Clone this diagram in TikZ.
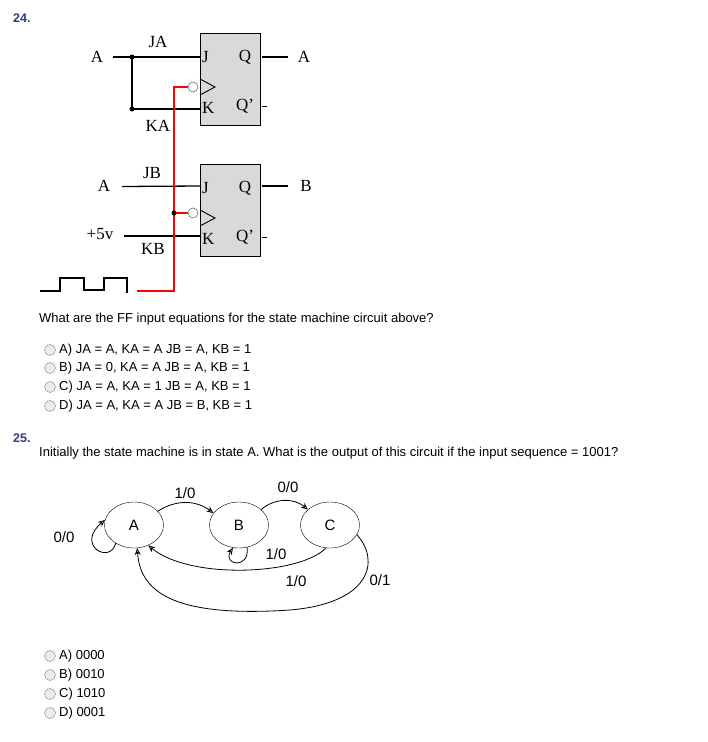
\documentclass[tikz,border=0pt]{standalone}
\usepackage{fontspec}
\setmainfont{Liberation Serif}
\newfontfamily\ar{Liberation Sans}
\usetikzlibrary{arrows.meta,shapes.geometric}
\begin{document}
\begin{tikzpicture}[x=1pt,y=-1pt,
  ff/.style={draw,fill=gray!30,line width=0.9pt,minimum width=60pt,minimum height=92pt,anchor=north west,inner sep=0},
  w/.style={line width=1.3pt},
  rw/.style={line width=1.3pt,red},
  lab/.style={font=\fontsize{17}{17}\selectfont,inner sep=1pt},
  txt/.style={font=\ar\fontsize{13}{14}\selectfont,anchor=west,inner sep=0},
  num/.style={font=\ar\bfseries\fontsize{12.5}{14}\selectfont,text={rgb,255:red,40;green,60;blue,130},anchor=west,inner sep=0},
  radio/.style={circle,draw=gray,fill=gray!15,minimum size=11pt,inner sep=0},
  st/.style={ellipse,draw,minimum width=59pt,minimum height=46pt,inner sep=0,font=\ar\fontsize{15}{15}\selectfont},
  hl/.style={font=\ar\fontsize{15}{15}\selectfont,inner sep=0},
  ar/.style={-{Stealth[open,length=7pt,width=6pt]},line width=0.8pt}]
\useasboundingbox[fill=white] (0,0) rectangle (708,742);
\node[num] (n24) at (13,18) {24.};
% flip-flops
\node[ff] (fa) at (200,33) {};
\node[ff] (fb) at (200,164) {};
\node[lab] (ja) at (158,42) {JA};
\node[lab] (ka) at (158,126) {KA};
\node[lab] (jb) at (152,173) {JB};
\node[lab] (kb) at (153,249) {KB};
\node[lab] (la) at (97,57) {A};
\node[lab] (lb) at (104,186) {A};
\node[lab] (l5) at (100,234) {+5v};
\node[lab] (qa) at (304,57) {A};
\node[lab] (qb) at (306,186) {B};
\foreach \f/\y in {fa/33,fb/164}{
  \node[lab,anchor=west] at (201,\y+24) {J};
  \node[lab,anchor=west] at (201,\y+75) {K};
  \node[lab] at (245,\y+24) {Q};
  \node[lab] at (245,\y+73) {Q’};
  \draw[line width=0.9pt] (200,\y+46) -- (215,\y+54) -- (200,\y+62);
  \draw[line width=0.9pt] (262,\y+73) -- (267,\y+73);
}
\draw[w] (113,57) -- (200,57);
\draw[w] (132,57) -- (132,109) -- (200,109);
\fill (132,57) circle (2.5) (132,109) circle (2.5);
\draw[w] (262,57) -- (288,57);
\draw[w] (262,186) -- (288,186);
\draw[w] (122,186.5) -- (200,186);
\draw[w] (124,236) -- (200,236);
% clock
\draw[rw] (137,291) -- (174,291) -- (174,87) -- (188,87);
\draw[rw] (174,213) -- (188,213);
\draw[gray,fill=white,line width=0.7pt] (193,87) circle (5);
\draw[gray,fill=white,line width=0.7pt] (193,213) circle (5);
\fill (174,213) circle (2.5);
\draw[w] (40,291) -- (60,291) -- (60,278) -- (84,278) -- (84,290) -- (104,290) -- (104,278) -- (127,278) -- (127,293);
% Q24 text
\node[txt] (q24) at (39,319) {What are the FF input equations for the state machine circuit above?};
\foreach \yy/\t in {350/{A) JA = A, KA = A JB = A, KB = 1},368/{B) JA = 0, KA = A JB = A, KB = 1},387/{C) JA = A, KA = 1 JB = A, KB = 1},406/{D) JA = A, KA = A JB = B, KB = 1}}{
  \node[radio] at (50,\yy) {};
  \node[txt] at (59,\yy) {\t};
}
\node[num] (n25) at (13,438) {25.};
\node[txt] (q25) at (39,453) {Initially the state machine is in state A. What is the output of this circuit if the input sequence = 1001?};
% state diagram
\node[st] (A) at (134,525) {A};
\node[st] (B) at (239,525) {B};
\node[st] (C) at (330,525) {C};
\draw[ar] (A.30) to[bend left=35] (B.155);
\draw[ar] (B.35) to[bend left=40] (C.145);
\draw[ar] (A.225) .. controls (110,565) and (75,545) .. (A.170);
\draw[ar] (B.290) .. controls (250,570) and (222,565) .. (B.255);
\draw[ar] (C.260) .. controls (300,575) and (190,580) .. (A.305);
\draw[ar] (C.340) .. controls (380,560) and (372,603) .. (290,610) .. controls (170,618) and (140,590) .. (A.278);
\node[hl] (l1) at (185,493) {1/0};
\node[hl] (l2) at (288,487) {0/0};
\node[hl] (l3) at (64,537) {0/0};
\node[hl] (l4) at (276,554) {1/0};
\node[hl] (l5b) at (296,581) {1/0};
\node[hl] (l6) at (380,580) {0/1};
\foreach \yy/\t in {656/{A) 0000},675/{B) 0010},694/{C) 1010},713/{D) 0001}}{
  \node[radio] at (50,\yy) {};
  \node[txt] at (59,\yy) {\t};
}
\end{tikzpicture}
\end{document}
